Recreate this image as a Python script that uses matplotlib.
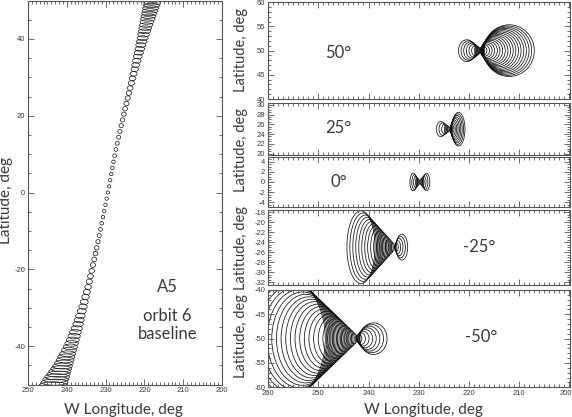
import matplotlib.pyplot as plt
from matplotlib.patches import Ellipse
from matplotlib.ticker import MultipleLocator
from matplotlib.transforms import ScaledTranslation

plt.rcParams['axes.unicode_minus'] = False
plt.rcParams['font.family'] = 'Liberation Sans'

# left panel: ground-track markers (lat, W lon) and marker size in degrees
track_lat = [-50.1, -49.4, -48.7, -48.0, -47.3, -46.6, -45.9, -45.2, -44.4, -43.6,
             -42.8, -42.0, -41.1, -40.2, -39.3, -38.4, -37.4, -36.4, -35.4, -34.3,
             -33.2, -32.1, -30.9, -29.7, -28.5, -27.2, -25.9, -24.6, -23.2, -21.8,
             -20.4, -18.9, -17.4, -15.9, -14.4, -12.8, -11.2, -9.6, -8.0, -6.4,
             -4.8, -3.2, -1.6, 0.0, 1.6, 3.2, 4.8, 6.4, 8.0, 9.6,
             11.2, 12.8, 14.4, 15.9, 17.4, 18.9, 20.4, 21.8, 23.2, 24.6,
             25.9, 27.2, 28.5, 29.7, 30.9, 32.1, 33.2, 34.3, 35.4, 36.4,
             37.4, 38.4, 39.3, 40.2, 41.1, 42.0, 42.8, 43.6, 44.4, 45.2,
             45.9, 46.6, 47.3, 48.0, 48.7, 49.4, 50.1]
track_lon = [243.55, 243.20, 242.85, 242.50, 242.15, 241.80, 241.45, 241.10, 240.76, 240.44,
             240.12, 239.80, 239.44, 239.08, 238.76, 238.46, 238.12, 237.78, 237.44, 237.10,
             236.80, 236.49, 236.15, 235.82, 235.51, 235.17, 234.83, 234.51, 234.20, 233.90,
             233.59, 233.26, 232.93, 232.60, 232.28, 231.96, 231.64, 231.32, 231.00, 230.68,
             230.36, 230.04, 229.72, 229.40, 229.11, 228.82, 228.54, 228.25, 227.96, 227.67,
             227.34, 226.98, 226.63, 226.30, 225.97, 225.64, 225.30, 224.97, 224.63, 224.30,
             223.98, 223.67, 223.36, 223.07, 222.78, 222.50, 222.24, 221.97, 221.70, 221.44,
             221.18, 220.92, 220.68, 220.45, 220.22, 219.98, 219.77, 219.56, 219.36, 219.14,
             218.95, 218.75, 218.56, 218.36, 218.16, 217.97, 217.77]
track_w = [7.00, 6.98, 6.67, 6.35, 6.03, 5.72, 5.40, 5.07, 4.83, 4.61,
           4.38, 4.16, 3.91, 3.66, 3.49, 3.34, 3.18, 3.02, 2.86, 2.72,
           2.58, 2.45, 2.31, 2.17, 2.05, 1.91, 1.79, 1.68, 1.59, 1.51,
           1.42, 1.35, 1.29, 1.22, 1.15, 1.09, 1.04, 0.99, 0.94, 0.91,
           0.88, 0.87, 0.86, 0.85, 0.86, 0.87, 0.88, 0.90, 0.92, 0.94,
           0.97, 1.00, 1.04, 1.07, 1.10, 1.13, 1.17, 1.22, 1.28, 1.33,
           1.41, 1.50, 1.60, 1.68, 1.79, 1.91, 2.02, 2.13, 2.25, 2.37,
           2.49, 2.61, 2.72, 2.84, 3.00, 3.16, 3.30, 3.45, 3.59, 3.73,
           3.84, 3.96, 4.07, 4.18, 4.29, 4.40, 4.52]
track_h = [1.60, 1.59, 1.58, 1.57, 1.56, 1.55, 1.54, 1.52, 1.52, 1.51,
           1.50, 1.50, 1.49, 1.48, 1.47, 1.46, 1.44, 1.43, 1.42, 1.41,
           1.41, 1.40, 1.39, 1.38, 1.36, 1.35, 1.33, 1.32, 1.30, 1.28,
           1.26, 1.22, 1.18, 1.14, 1.10, 1.06, 1.03, 0.99, 0.94, 0.91,
           0.88, 0.87, 0.86, 0.85, 0.86, 0.87, 0.88, 0.90, 0.92, 0.94,
           0.97, 0.99, 1.01, 1.04, 1.06, 1.08, 1.10, 1.12, 1.13, 1.15,
           1.16, 1.17, 1.19, 1.20, 1.20, 1.20, 1.20, 1.20, 1.20, 1.20,
           1.20, 1.20, 1.20, 1.20, 1.19, 1.18, 1.17, 1.16, 1.16, 1.15,
           1.14, 1.13, 1.13, 1.12, 1.11, 1.11, 1.10]

# right panels: footprint ellipses at each latitude crossing (centre lon, width, height)
fp50_lon = [218.04, 218.38, 218.71, 219.05, 219.39, 219.73, 220.06, 220.40,
            217.42, 217.13, 216.85, 216.56, 216.28, 215.99, 215.71, 215.42, 215.14, 214.85,
            214.57, 214.28, 214.00, 213.71, 213.43, 213.14, 212.86, 212.57, 212.29, 212.00]
fp50_w = [0.78, 1.15, 1.53, 1.90, 2.28, 2.65, 3.03, 3.40,
          0.88, 1.36, 1.84, 2.32, 2.80, 3.28, 3.76, 4.24, 4.72, 5.20,
          5.68, 6.16, 6.64, 7.12, 7.60, 8.08, 8.56, 9.04, 9.52, 10.00]
fp50_h = [1.26, 1.73, 2.19, 2.65, 3.11, 3.58, 4.04, 4.50,
          1.30, 1.79, 2.29, 2.78, 3.28, 3.77, 4.27, 4.76, 5.26, 5.75,
          6.25, 6.74, 7.24, 7.73, 8.23, 8.72, 9.22, 9.71, 10.21, 10.70]

fp25_lon = [224.08, 224.46, 224.84, 225.22, 225.60,
            223.54, 223.38, 223.22, 223.06, 222.90, 222.74, 222.58, 222.42, 222.26, 222.10]
fp25_w = [0.60, 0.90, 1.20, 1.50, 1.80,
          0.53, 0.76, 0.99, 1.22, 1.45, 1.68, 1.91, 2.14, 2.37, 2.60]
fp25_h = [1.10, 1.60, 2.10, 2.60, 3.10,
          1.23, 1.86, 2.49, 3.12, 3.75, 4.38, 5.01, 5.64, 6.27, 6.90]

fp0_lon = [230.06, 230.32, 230.58, 230.84, 231.10,
           229.53, 229.26, 228.99, 228.72, 228.45]
fp0_w = [0.46, 0.67, 0.88, 1.09, 1.30,
         0.46, 0.67, 0.88, 1.09, 1.30]
fp0_h = [1.10, 1.70, 2.30, 2.90, 3.50,
         1.10, 1.70, 2.30, 2.90, 3.40]

fpm25_lon = [234.43, 234.16, 233.89, 233.62, 233.35,
             235.13, 235.55, 235.98, 236.40, 236.83, 237.25, 237.68, 238.10,
             238.53, 238.95, 239.38, 239.80, 240.23, 240.65, 241.08, 241.50]
fpm25_w = [0.70, 1.10, 1.50, 1.90, 2.30,
           0.63, 0.96, 1.29, 1.63, 1.96, 2.29, 2.62, 2.95,
           3.28, 3.61, 3.94, 4.28, 4.61, 4.94, 5.27, 5.60]
fpm25_h = [1.68, 2.56, 3.44, 4.32, 5.20,
           1.66, 2.53, 3.39, 4.25, 5.11, 5.98, 6.84, 7.70,
           8.56, 9.43, 10.29, 11.15, 12.01, 12.88, 13.74, 14.60]

fpm50_lon = [241.89, 241.48, 241.06, 240.65, 240.24, 239.83, 239.41, 239.00,
             242.9, 243.5, 244.1, 244.7, 245.3, 245.9, 246.5, 247.1, 247.7, 248.3, 248.9, 249.5,
             250.1, 250.7, 251.3, 251.9, 252.5, 253.1, 253.7, 254.3, 254.9, 255.5, 256.1, 256.7]
fpm50_w = [1.11, 1.73, 2.34, 2.95, 3.56, 4.18, 4.79, 5.40,
           1.25, 1.90, 2.55, 3.20, 3.85, 4.50, 5.15, 5.80, 6.45, 7.10, 7.75, 8.40,
           9.05, 9.70, 10.35, 11.00, 11.65, 12.30, 12.95, 13.60, 14.25, 14.90, 15.55, 16.20]
fpm50_h = [1.69, 2.38, 3.06, 3.75, 4.44, 5.13, 5.81, 6.50,
           2.2, 3.2, 4.2, 5.2, 6.2, 7.2, 8.2, 9.2, 10.2, 11.2, 12.2, 13.2,
           14.2, 15.2, 16.2, 17.2, 18.2, 19.2, 20.2, 21.2, 22.2, 23.2, 24.2, 25.2]

panel_lat = [50, 25, 0, -25, -50]
panel_labels = ['50°', '25°', '0°', '-25°', '-50°']
panel_ylim = [(40, 60), (19.7, 30.3), (-5, 5), (-32.5, -17.5), (-60, -40)]
panel_ystep = [5, 2, 2, 2, 5]
panel_yminor = [1, 0.5, 0.5, 0.5, 1]
panel_lon = [fp50_lon, fp25_lon, fp0_lon, fpm25_lon, fpm50_lon]
panel_w = [fp50_w, fp25_w, fp0_w, fpm25_w, fpm50_w]
panel_h = [fp50_h, fp25_h, fp0_h, fpm25_h, fpm50_h]

W, H = 572, 417
text_color = '#3a3a3a'
label_font = dict(family='Lato', color=text_color)


def frac(x0, y0, x1, y1):
    return [x0 / W, 1 - y1 / H, (x1 - x0) / W, (y1 - y0) / H]


def style(ax, xstep, xminor, ystep, yminor):
    ax.xaxis.set_major_locator(MultipleLocator(xstep))
    ax.xaxis.set_minor_locator(MultipleLocator(xminor))
    ax.yaxis.set_major_locator(MultipleLocator(ystep))
    ax.yaxis.set_minor_locator(MultipleLocator(yminor))
    ax.tick_params(which='both', direction='in', top=True, right=True,
                   labelsize=5.5, color='#555555', labelcolor=text_color, width=0.6, pad=2)
    ax.tick_params(which='major', length=4)
    ax.tick_params(which='minor', length=2)
    for s in ax.spines.values():
        s.set_color('#555555')
        s.set_linewidth(0.8)


fig = plt.figure(figsize=(W / 100, H / 100), dpi=100)

# left panel
ax = fig.add_axes(frac(28, 0.5, 222, 384.5))
for lat, lon, w, h in zip(track_lat, track_lon, track_w, track_h):
    ax.add_patch(Ellipse((lon, lat), w, h, fill=False, edgecolor='#111111', lw=0.5))
ax.set_xlim(250, 200)
ax.set_ylim(-50, 50)
style(ax, 10, 1, 20, 5)
ax.text(214, -24.7, 'A5', ha='center', va='center', fontsize=12, **label_font)
ax.text(214, -32.2, 'orbit 6', ha='center', va='center', fontsize=12, **label_font)
ax.text(214, -36.9, 'baseline', ha='center', va='center', fontsize=12, **label_font)
fig.text(123 / W, 1 - 410 / H, 'W Longitude, deg', ha='center', va='center', fontsize=11, **label_font)
fig.text(6 / W, 1 - 200 / H, 'Latitude, deg', ha='center', va='center', rotation=90, fontsize=11, **label_font)

# right panels
boxes = [(2.3, 99), (103.3, 155), (156.6, 207.4), (209.8, 284.5), (290, 387.3)]
text_pos = [(246, 49.5), (246, 25.2), (246, 0), (218, -25), (217.5, -49.7)]
for i, (y0, y1) in enumerate(boxes):
    ax = fig.add_axes(frac(268, y0, 569.5, y1))
    for lon, w, h in zip(panel_lon[i], panel_w[i], panel_h[i]):
        ax.add_patch(Ellipse((lon, panel_lat[i]), w, h, fill=False, edgecolor='#111111', lw=0.55))
    ax.set_xlim(260, 200)
    ax.set_ylim(*panel_ylim[i])
    style(ax, 10, 1, panel_ystep[i], panel_yminor[i])
    if i < 4:
        ax.tick_params(labelbottom=False)
    ax.text(*text_pos[i], panel_labels[i], ha='center', va='center', fontsize=12, **label_font)

# keep the last longitude label inside the picture
fig.canvas.draw()
last = [t for t in ax.get_xticklabels() if t.get_text() == '200']
for t in last:
    t.set_transform(t.get_transform() + ScaledTranslation(-4 / 100, 0, fig.dpi_scale_trans))

for yc in [50, 150, 248, 336]:
    fig.text(241 / W, 1 - yc / H, 'Latitude, deg', ha='center', va='center', rotation=90,
             fontsize=10.5, **label_font)
fig.text(423 / W, 1 - 410 / H, 'W Longitude, deg', ha='center', va='center', fontsize=11, **label_font)

fig.savefig('out.png', dpi=100)
